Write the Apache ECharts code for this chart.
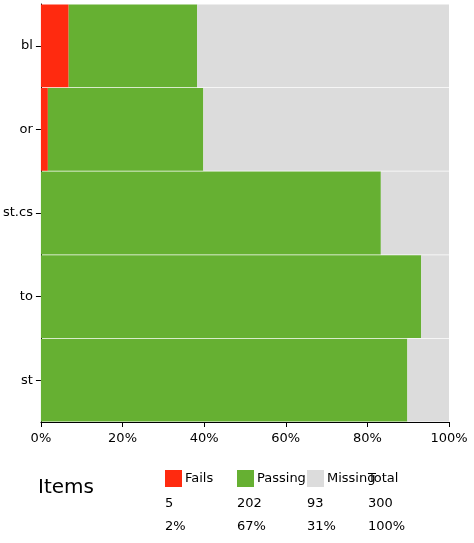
<!DOCTYPE html>
<html><head><meta charset="utf-8">
<script src="https://cdn.jsdelivr.net/npm/echarts@6/dist/echarts.min.js"></script>
<style>html,body{margin:0;padding:0;background:#fff}#c{width:474px;height:543px}</style>
</head><body><div id="c"></div>
<script>
const categories = ['bl','or','st.cs','to','st'];
const fails =   [6.8, 1.7, 0, 0, 0];
const passing = [31.5, 38.1, 83.3, 93.2, 89.8];
const missing = [61.7, 60.2, 16.7, 6.8, 10.2];
const legendNames = ['Fails','Passing','Missing','Total'];
const legendCounts = ['5','202','93','300'];
const legendPcts = ['2%','67%','31%','100%'];
const colors = ['#ff2a0f','#66b032','#dcdcdc'];
const font = 'DejaVu Sans';
const chart = echarts.init(document.getElementById('c'));
const graphics = [{type:'text',left:38,top:478,style:{text:'Items',font:'20px '+font,fill:'#000'}}];
const xs = [165,237,307,368];
legendNames.forEach((n,i)=>{
  if(i<3) graphics.push({type:'rect',shape:{x:xs[i],y:470,width:17,height:17},style:{fill:colors[i]}});
  graphics.push({type:'text',x:i<3?xs[i]+20:xs[i],y:472,style:{text:n,font:'13px '+font,fill:'#000'}});
  graphics.push({type:'text',x:xs[i],y:497,style:{text:legendCounts[i],font:'13px '+font,fill:'#000'}});
  graphics.push({type:'text',x:xs[i],y:520,style:{text:legendPcts[i],font:'13px '+font,fill:'#000'}});
});
const mk=(name,data,c)=>({name,type:'bar',stack:'a',data,barCategoryGap:'1%',itemStyle:{color:c},silent:true});
chart.setOption({
  animation:false,
  textStyle:{fontFamily:font},
  grid:{left:37,right:25,top:4,bottom:121},
  xAxis:{type:'value',min:0,max:100,interval:20,
    axisLabel:{formatter:'{value}%',color:'#000',fontSize:13,margin:10},
    axisLine:{show:true,lineStyle:{color:'#000'}},axisTick:{show:true,lineStyle:{color:'#000'}},splitLine:{show:false}},
  yAxis:{type:'category',data:categories,inverse:true,
    axisLabel:{color:'#000',fontSize:13,margin:8},
    axisLine:{lineStyle:{color:'#000'}},axisTick:{show:true,alignWithLabel:true,lineStyle:{color:'#000'}}},
  series:[mk('Fails',fails,colors[0]),mk('Passing',passing,colors[1]),mk('Missing',missing,colors[2])],
  graphic:graphics
});
</script></body></html>
